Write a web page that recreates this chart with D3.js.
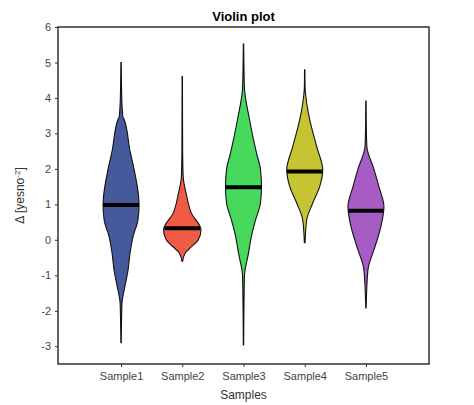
<!DOCTYPE html>
<html><head><meta charset="utf-8">
<script src="https://d3js.org/d3.v7.min.js"></script>
<style>body{margin:0;background:#fff}</style></head>
<body><svg id="c" width="474" height="405"></svg>
<script>
const categories = ["Sample1","Sample2","Sample3","Sample4","Sample5"];
const colors = ["#46599b","#f05b46","#47d95b","#c6c433","#a75bc4"];
const medians = [0.98, 0.33, 1.48, 1.93, 0.82];
// density profiles: [value, relative density]
const profiles = [
  [[-2.9,0.01],[-1.8,0.05],[-1.3,0.22],[-0.85,0.39],[-0.37,0.5],[0.1,0.67],[0.56,0.94],[1.0,1.0],[2.0,0.72],[2.5,0.5],[3.4,0.17],[3.47,0.1],[4.0,0.04],[5.0,0.01]],
  [[-0.6,0.02],[-0.37,0.17],[-0.28,0.33],[0.0,0.89],[0.28,1.04],[0.76,0.5],[1.3,0.22],[1.78,0.05],[2.5,0.02],[4.6,0.01]],
  [[-2.96,0.01],[-1.03,0.05],[-0.37,0.28],[0.1,0.44],[0.56,0.67],[1.03,0.94],[1.5,1.0],[2.0,0.94],[2.45,0.72],[3.4,0.33],[4.3,0.05],[5.52,0.01]],
  [[-0.08,0.02],[0.56,0.11],[1.03,0.44],[1.5,0.83],[1.97,1.0],[2.62,0.67],[3.38,0.28],[3.85,0.11],[4.3,0.02],[4.79,0.01]],
  [[-1.92,0.01],[-0.85,0.11],[-0.2,0.5],[0.37,0.83],[0.94,1.0],[1.5,0.72],[2.0,0.44],[2.63,0.05],[3.2,0.02],[3.91,0.01]]
];
const yTicks = [-3,-2,-1,0,1,2,3,4,5,6];

const svg = d3.select("#c");
const L=58,R=429,T=27,B=364;
const x = d3.scalePoint().domain(categories).range([L,R]).padding(1.03);
const y = d3.scaleLinear().domain([-3.5,6]).range([B,T]);
const w = d3.scaleLinear().domain([0,1]).range([0,18]);

profiles.forEach((p,i)=>{
  const cx = x(categories[i]);
  const area = d3.area().curve(d3.curveMonotoneY)
    .y(d=>y(d[0])).x0(d=>cx-w(d[1])).x1(d=>cx+w(d[1]));
  svg.append("path").datum(p).attr("d",area)
    .attr("fill",colors[i]).attr("stroke","#111").attr("stroke-width",1.1);
  let dm=0;
  for(let k=0;k<p.length-1;k++){ if(medians[i]>=p[k][0]&&medians[i]<=p[k+1][0]){const t=(medians[i]-p[k][0])/(p[k+1][0]-p[k][0]); dm=p[k][1]+t*(p[k+1][1]-p[k][1]);} }
  svg.append("line").attr("x1",cx-w(dm)).attr("x2",cx+w(dm))
    .attr("y1",y(medians[i])).attr("y2",y(medians[i]))
    .attr("stroke","#000").attr("stroke-width",4);
});

svg.append("rect").attr("x",L).attr("y",T).attr("width",R-L).attr("height",B-T)
  .attr("fill","none").attr("stroke","#333").attr("stroke-width",1.5);

const ya = svg.append("g").attr("transform",`translate(${L},0)`)
  .call(d3.axisLeft(y).tickValues(yTicks).tickFormat(d=>String(d)).tickSize(3).tickPadding(4));
const xa = svg.append("g").attr("transform",`translate(0,${B})`)
  .call(d3.axisBottom(x).tickSize(3).tickPadding(5));
[ya,xa].forEach(a=>{a.select(".domain").remove();
  a.selectAll("text").attr("font-family","Liberation Sans, Arial").attr("font-size",11).attr("fill","#444");
  a.selectAll("line").attr("stroke","#333");});

svg.append("text").attr("x",(L+R)/2).attr("y",21).attr("text-anchor","middle")
  .attr("font-family","Liberation Sans, Arial").attr("font-weight","bold").attr("font-size",13).text("Violin plot");
svg.append("text").attr("x",(L+R)/2).attr("y",399).attr("text-anchor","middle")
  .attr("font-family","Liberation Sans, Arial").attr("font-size",12).attr("fill","#333").text("Samples");
const yl = svg.append("text").attr("transform",`translate(24,${(T+B)/2}) rotate(-90)`).attr("text-anchor","middle")
  .attr("font-family","Liberation Sans, Arial").attr("font-size",12).attr("fill","#333");
yl.append("tspan").text("Δ  [yesno");
yl.append("tspan").attr("baseline-shift","super").attr("font-size",8).text("-2");
yl.append("tspan").text("]");
</script></body></html>
